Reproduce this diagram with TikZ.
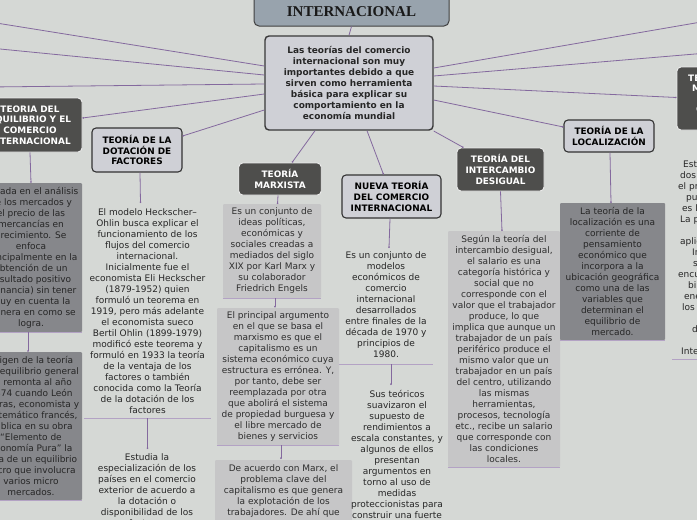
\documentclass[tikz,border=0pt]{standalone}
\usepackage{fontspec}
\setmainfont{DejaVu Sans}
\newfontfamily\titlefont{Liberation Serif}
\usetikzlibrary{arrows.meta}
\definecolor{bgc}{HTML}{D5D8D5}
\definecolor{wire}{HTML}{84699E}
\definecolor{rule}{HTML}{B3A2C4}
\definecolor{darkbox}{HTML}{4E4E4C}
\definecolor{lightbox}{HTML}{CFD0D6}
\definecolor{slate}{HTML}{98A3AD}
\definecolor{midgray}{HTML}{86878B}
\definecolor{palegray}{HTML}{C6C6C7}
\definecolor{txt}{HTML}{262626}
\tikzset{
  conn/.style={draw=wire,line width=0.8pt,-{Circle[length=1.6pt]}},
  plain/.style={draw=wire,line width=0.8pt},
  underrule/.style={draw=rule,line width=1pt},
  head/.style={rounded corners=4pt,align=center,inner sep=0pt,
     font=\fontsize{8.9}{10.7}\selectfont\bfseries},
  headlight/.style={head,fill=lightbox,draw=black!80,line width=1.1pt,text=black},
  headdark/.style={head,fill=darkbox,draw=white!92!black,line width=0.9pt,text=white},
  body/.style={align=center,inner sep=0pt,text=txt,font=\fontsize{9}{11}\selectfont},
  greybody/.style={body,fill=midgray,rounded corners=1pt,text=black!85},
  paleBody/.style={body,fill=palegray,rounded corners=1pt,text=black!82},
  frag/.style={anchor=base west,inner sep=0pt,text=txt,font=\fontsize{9}{11}\selectfont},
}
\begin{document}
\begin{tikzpicture}[x=1pt,y=-1pt]
\useasboundingbox (0,0) rectangle (697,520);
\clip (0,0) rectangle (697,520);
\fill[bgc] (0,0) rectangle (697,520);

% free ends off the picture
\coordinate (offL1) at (-10,22);
\coordinate (offL2) at (-10,48);
\coordinate (offL3) at (-10,87);
\coordinate (offR1) at (707,21);
\coordinate (offR2) at (707,53);
\coordinate (ruleA) at (672,359);
\coordinate (ruleB) at (700,359);

% main boxes
\node[rounded corners=5pt,draw=black!75,line width=1pt,fill=slate,minimum width=195pt,minimum height=60pt,inner sep=0pt] (title) at (351.5,-4) {};
\node[font=\fontsize{15}{17}\selectfont\titlefont\bfseries,text=black!90,inner sep=0pt] (titletext) at (351.5,12) {INTERNACIONAL};
\node[rounded corners=4pt,draw=black!78,line width=1.4pt,fill=lightbox,minimum width=168pt,minimum height=94pt,align=center,inner sep=0pt,
  font=\fontsize{8.95}{11}\selectfont\bfseries,text=txt] (main) at (349,83)
  {Las teorías del comercio\\internacional son muy\\importantes debido a que\\sirven como herramienta\\básica para explicar su\\comportamiento en la\\economía mundial};

% headers
\node[headdark,minimum width=104pt,minimum height=54pt] (equi) at (30,125)
  {TEORIA DEL\\EQUILIBRIO Y EL\\COMERCIO\\INTERNACIONAL};
\node[headlight,minimum width=90pt,minimum height=44pt] (dota) at (137,150)
  {TEORÍA DE LA\\DOTACIÓN DE\\FACTORES};
\node[headdark,minimum width=82.5pt,minimum height=32pt] (marx) at (280,179)
  {TEORÍA\\MARXISTA};
\node[headlight,minimum width=99pt,minimum height=43pt] (nueva) at (391.5,196.5)
  {NUEVA TEORÍA\\DEL COMERCIO\\INTERNACIONAL};
\node[headdark,minimum width=87pt,minimum height=43pt] (inter) at (500.5,169.5)
  {TEORÍA DEL\\INTERCAMBIO\\DESIGUAL};
\node[headlight,minimum width=90pt,minimum height=32pt] (loca) at (609,136)
  {TEORÍA DE LA\\LOCALIZACIÓN};
\node[headdark,minimum width=60pt,minimum height=63pt] (far) at (707,98.5) {};
\node[frag,text=white,font=\fontsize{8.9}{10.7}\selectfont\bfseries] (farA) at (688,81) {TE};
\node[frag,text=white,font=\fontsize{8.9}{10.7}\selectfont\bfseries] (farB) at (692,91) {M};
\node[frag,text=white,font=\fontsize{8.9}{10.7}\selectfont\bfseries] (farC) at (696,112) {C};

% body blocks
\node[greybody,minimum width=102pt,minimum height=149pt] (equiA) at (31,257.5)
  {Basada en el análisis\\de los mercados y\\el precio de las\\mercancías en\\crecimiento. Se\\enfoca\\principalmente en la\\obtención de un\\resultado positivo\\(ganancia) sin tener\\muy en cuenta la\\manera en como se\\logra.};
\node[greybody,minimum width=102pt,minimum height=148pt] (equiB) at (31,426)
  {Origen de la teoría\\del equilibrio general\\se remonta al año\\1874 cuando León\\Walras, economista y\\matemático francés,\\publica en su obra\\“Elemento de\\Economía Pura” la\\idea de un equilibrio\\micro que involucra\\varios micro\\mercados.};
\node[body,minimum width=127pt,minimum height=214pt] (dotaA) at (147.5,311)
  {El modelo Heckscher–\\Ohlin busca explicar el\\funcionamiento de los\\flujos del comercio\\internacional.\\Inicialmente fue el\\economista Eli Heckscher\\(1879-1952) quien\\formuló un teorema en\\1919, pero más adelante\\el economista sueco\\Bertil Ohlin (1899-1979)\\modificó este teorema y\\formuló en 1933 la teoría\\de la ventaja de los\\factores o también\\conocida como la Teoría\\de la dotación de los\\factores};
\node[body,anchor=north] (dotaB) at (147,453.5)
  {Estudia la\\especialización de los\\países en el comercio\\exterior de acuerdo a\\la dotación o\\disponibilidad de los\\factores};
\node[paleBody,minimum width=98pt,minimum height=94pt] (marxA) at (272,251)
  {Es un conjunto de\\ideas políticas,\\económicas y\\sociales creadas a\\mediados del siglo\\XIX por Karl Marx y\\su colaborador\\Friedrich Engels};
\node[paleBody,minimum width=122pt,minimum height=137pt] (marxB) at (278,376.5)
  {El principal argumento\\en el que se basa el\\marxismo es que el\\capitalismo es un\\sistema económico cuya\\estructura es errónea. Y,\\por tanto, debe ser\\reemplazada por otra\\que abolirá el sistema\\de propiedad burguesa y\\el libre mercado de\\bienes y servicios};
\node[paleBody,anchor=north,minimum width=137pt,inner ysep=4pt] (marxC) at (283.5,460)
  {De acuerdo con Marx, el\\problema clave del\\capitalismo es que genera\\la explotación de los\\trabajadores. De ahí que};
\node[body,minimum width=94pt,minimum height=118pt] (nuevaA) at (386,305)
  {Es un conjunto de\\modelos\\económicos de\\comercio\\internacional\\desarrollados\\entre finales de la\\década de 1970 y\\principios de\\1980.};
\node[body,anchor=north] (nuevaB) at (397,390)
  {Sus teóricos\\suavizaron el\\supuesto de\\rendimientos a\\escala constantes, y\\algunos de ellos\\presentan\\argumentos en\\torno al uso de\\medidas\\proteccionistas para\\construir una fuerte};
\node[paleBody,minimum width=112pt,minimum height=236pt] (interA) at (504,349)
  {Según la teoría del\\intercambio desigual,\\el salario es una\\categoría histórica y\\social que no\\corresponde con el\\valor que el trabajador\\produce, lo que\\implica que aunque un\\trabajador de un país\\periférico produce el\\mismo valor que un\\trabajador en un país\\del centro, utilizando\\las mismas\\herramientas,\\procesos, tecnología\\etc., recibe un salario\\que corresponde con\\las condiciones\\locales.};
\node[greybody,minimum width=105pt,minimum height=137pt] (locaA) at (612.5,271.5)
  {La teoría de la\\localización es una\\corriente de\\pensamiento\\económico que\\incorpora a la\\ubicación geográfica\\como una de las\\variables que\\determinan el\\equilibrio de\\mercado.};

% clipped column at the right edge
\foreach \px/\py/\t in {683/167/Est,680/178/dos,678/189/el pr,686/200/pur,682/211/es l,680/222/La p,680/244/aplic,692/255/In,693/266/s,678/277/encu,688/288/bi,684/299/ene,682/310/los,692/332/d,681/354/Inte}
  \node[frag,name=frag\py] at (\px,\py) {\t};

% under rules
\draw[underrule] (equiA.south west) -- (equiA.south east);
\draw[underrule] (equiB.south west) -- (equiB.south east);
\draw[underrule] (dotaA.south west) -- (dotaA.south east);
\draw[underrule] (marxA.south west) -- (marxA.south east);
\draw[underrule] (marxB.south west) -- (marxB.south east);
\draw[underrule] (nuevaA.south west) -- (nuevaA.south east);
\draw[underrule] (interA.south west) -- (interA.south east);
\draw[underrule] (locaA.south west) -- (locaA.south east);
\draw[underrule] (ruleA) -- (ruleB);

% connectors from the main box
\draw[plain] (title.south) -- (main.north);
\draw[plain] ([yshift=17pt]main.west) -- (offL1);
\draw[plain] ([yshift=8pt]main.west) -- (offL2);
\draw[plain] ([yshift=-1pt]main.west) -- (offL3);
\draw[conn] ([yshift=-11pt]main.west) -- ([yshift=7pt]equi.east);
\draw[conn] ([yshift=-27pt]main.west) -- ([yshift=14pt]dota.east);
\draw[conn] ([xshift=-34pt]main.south) -- ([xshift=12pt]marx.north);
\draw[conn] ([xshift=18pt]main.south) -- ([xshift=-8pt]nueva.north);
\draw[conn] ([yshift=-48pt]main.east) -- ([xshift=-37pt]inter.north);
\draw[conn] ([yshift=-17pt]main.east) -- ([yshift=9pt]loca.west);
\draw[conn] ([yshift=-3pt]main.east) -- ([yshift=1pt]far.west);
\draw[plain] ([yshift=7pt]main.east) -- (offR2);
\draw[plain] ([yshift=15pt]main.east) -- (offR1);

% connectors from headers to bodies
\draw[conn] (equi.south) -- (equiA.north);
\draw[conn] ([xshift=-3pt]equiA.south) -- ([xshift=-3pt]equiB.north);
\draw[conn] ([xshift=3pt]dota.south) -- (140.5,203);
\draw[conn] (dotaA.south) -- (147.5,449);
\draw[conn] ([xshift=-2pt]marx.south) -- (277.5,204);
\draw[conn] ([xshift=3pt]marxA.south) -- (275,307.5);
\draw[conn] ([xshift=3pt]marxB.south) -- (281,459);
\draw[conn] ([xshift=-1.5pt]nueva.south) -- (389,248);
\draw[conn] ([xshift=5pt]nuevaA.south) -- (391,385);
\draw[conn] (inter.south) -- (502,231);
\draw[conn] ([xshift=1pt]loca.south) -- (611,203);
\end{tikzpicture}
\end{document}
